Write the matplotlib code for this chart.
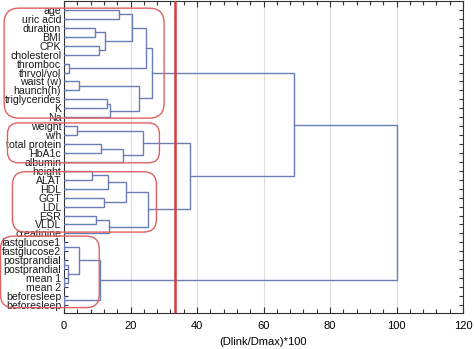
import matplotlib
matplotlib.use("Agg")
import matplotlib.pyplot as plt
from matplotlib.patches import FancyBboxPatch
from matplotlib.transforms import IdentityTransform
from matplotlib.ticker import MultipleLocator
import numpy as np

plt.rcParams['font.family'] = ['Liberation Sans', 'DejaVu Sans']

labels = ['age', 'uric acid', 'duration', 'BMI', 'CPK', 'cholesterol',
          'thromboc', 'thrvol/vol', 'waist (w)', 'haunch(h)', 'triglycerides',
          'K', 'Na', 'weight', 'w/h', 'total protein', 'HbA1c', 'albumin',
          'height', 'ALAT', 'HDL', 'GGT', 'LDL', 'ESR', 'VLDL', 'creatinine',
          'fastglucose1', 'fastglucose2', 'postprandial', 'postprandial',
          'mean 1', 'mean 2', 'beforesleep', 'beforesleep']

# linkage: node ids 0..33 are leaves, each merge makes node 34, 35, ...
merge_left = [0, 2, 4, 35, 34, 6, 38, 8, 10, 42, 41, 40,
              13, 15, 47, 46,
              18, 50, 21, 51, 23, 54, 53,
              49, 45,
              26, 28, 30, 60, 59, 32, 63, 58]
merge_right = [1, 3, 5, 36, 37, 7, 39, 9, 11, 12, 43, 44,
               14, 16, 17, 48,
               19, 20, 22, 52, 24, 25, 55,
               56, 57,
               27, 29, 31, 61, 62, 33, 64, 65]
merge_height = [16.5, 9.3, 10.5, 12.2, 20.5, 1.4, 24.7, 4.5, 12.8, 13.8, 22.7, 26.6,
                3.8, 11.0, 17.7, 23.7,
                8.3, 13.2, 12.0, 18.7, 9.5, 13.5, 25.2,
                37.9, 69.3,
                0.0, 0.0, 0.0, 1.3, 4.6, 0.0, 10.7, 100.0]

cut_level = 33.4

# outlined groups: (x from, x to, leaf from, leaf to, corner radius px)
groups = [(-18.0, 30.1, -0.2, 12.1, 15),
          (-17.0, 28.7, 12.64, 17.1, 11),
          (-15.5, 27.8, 18.1, 24.85, 13),
          (-19.1, 10.6, 25.3, 33.3, 13)]

line_col = '#6b7db5'
red = '#d63a3c'

fig = plt.figure(figsize=(4.74, 3.49), dpi=100)
ax = fig.add_axes([64 / 474, 36 / 349, 399 / 474, 312 / 349])

n = len(labels)
node_y = list(np.arange(n, dtype=float))
node_x = [0.0] * n
for a, b, h in zip(merge_left, merge_right, merge_height):
    ya, yb = node_y[a], node_y[b]
    ax.plot([node_x[a], h, h, node_x[b]], [ya, ya, yb, yb],
            color=line_col, lw=1.0, solid_joinstyle='miter', zorder=3)
    node_y.append((ya + yb) / 2)
    node_x.append(h)

ax.axvline(cut_level, color=red, lw=1.8, zorder=4)

ax.set_xlim(0, 120)
ax.set_ylim(33.9, -1.0)
ax.xaxis.set_major_locator(MultipleLocator(20))
ax.xaxis.set_minor_locator(MultipleLocator(4))
ax.set_yticks(range(n))
ax.set_yticklabels(labels)
ax.tick_params(axis='both', which='both', direction='in',
               top=True, right=True, color='#333333', width=0.8)
ax.tick_params(axis='x', which='major', length=4, labelsize=8, pad=6)
ax.tick_params(axis='x', which='minor', length=3)
ax.tick_params(axis='y', length=3, labelsize=7.6, pad=2, labelcolor='#1a1a1a')
ax.grid(axis='x', which='major', color='#d9dde6', lw=0.8)
ax.set_axisbelow(True)
for s in ax.spines.values():
    s.set_color('#333333')
    s.set_linewidth(0.8)
ax.set_xlabel('(Dlink/Dmax)*100', fontsize=8, labelpad=4)

for x0, x1, y0, y1, r in groups:
    (px0, py0), (px1, py1) = ax.transData.transform([(x0, y1), (x1, y0)])
    px0 = max(px0, 0.5)
    box = FancyBboxPatch((px0, py0), px1 - px0, py1 - py0,
                         boxstyle=f'round,pad=0,rounding_size={r}',
                         transform=IdentityTransform(), fill=False,
                         ec='#e06062', lw=1.0, clip_on=False, zorder=5)
    fig.add_artist(box)

fig.savefig('out.png', dpi=100)
